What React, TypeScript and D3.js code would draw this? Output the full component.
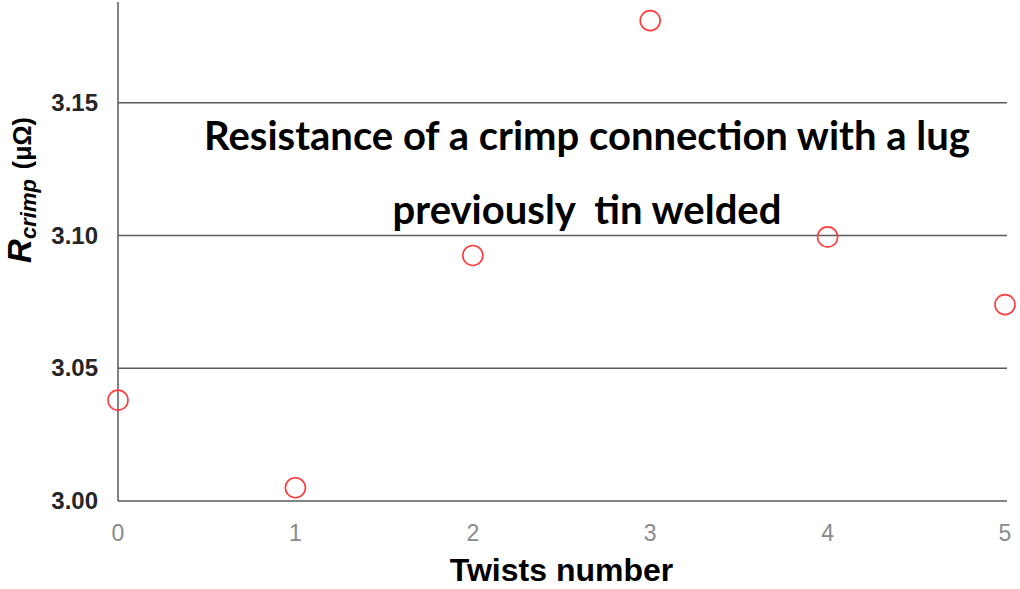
import * as React from "react";
import * as d3 from "d3";

const twists = [0, 1, 2, 3, 4, 5];
const resistance = [3.038, 3.005, 3.0925, 3.181, 3.0995, 3.074];
const yTicks = [3.0, 3.05, 3.1, 3.15];
const titleLines = ["Resistance of a crimp connection with a lug", "previously  tin welded"];

const W = 1020;
const H = 589;
const margin = { left: 118, right: 15, top: 2, bottom: 88 };

export default function App() {
    const x = d3.scaleLinear().domain([0, 5]).range([margin.left, W - margin.right]);
    const y = d3.scaleLinear().domain([3.0, 3.188]).range([H - margin.bottom, margin.top]);
    const fmt = d3.format(".2f");

    return (
        <svg width={W} height={H} style={{ position: "absolute", left: 0, top: 0, background: "#fff" }}>
            {/* gridlines */}
            {yTicks.map(t => (
                <line key={t} x1={x(0)} x2={x(5) + 2} y1={y(t)} y2={y(t)} stroke="#595959" strokeWidth={1.5} />
            ))}
            <line x1={x(0)} x2={x(0)} y1={y(3.188)} y2={y(3.0)} stroke="#595959" strokeWidth={1.5} />

            {/* y tick labels */}
            {yTicks.map(t => (
                <text key={t} x={x(0) - 20} y={y(t) + 8} textAnchor="end"
                    style={{ font: "bold 24px 'Liberation Sans', Arial, sans-serif", fill: "#262626" }}>
                    {fmt(t)}
                </text>
            ))}

            {/* x tick labels */}
            {twists.map(t => (
                <text key={t} x={x(t)} y={y(3.0) + 40} textAnchor="middle"
                    style={{ font: "23px 'Liberation Sans', Arial, sans-serif", fill: "#8a8a8a" }}>
                    {t}
                </text>
            ))}

            {/* axis titles */}
            <text x={(x(0) + x(5)) / 2} y={581} textAnchor="middle"
                style={{ font: "bold 32px 'Liberation Sans', Arial, sans-serif", fill: "#000" }}>
                Twists number
            </text>
            <text transform="translate(31,190) rotate(-90)" textAnchor="middle"
                style={{ font: "bold 33px 'Liberation Sans', Arial, sans-serif", fill: "#000" }}>
                <tspan fontStyle="italic">R</tspan>
                <tspan fontStyle="italic" fontSize={22} dy={5}>crimp</tspan>
                <tspan fontSize={25} dy={-5} dx={10}>(μΩ)</tspan>
            </text>

            {/* title */}
            {titleLines.map((l, i) => (
                <text key={i} x={587} y={150 + i * 74} textAnchor="middle" xmlSpace="preserve"
                    style={{ font: "bold 40px Lato, 'Open Sans', sans-serif", fill: "#000", whiteSpace: "pre" }}>
                    {l}
                </text>
            ))}

            {/* markers */}
            {twists.map((t, i) => (
                <circle key={t} cx={x(t)} cy={y(resistance[i])} r={10}
                    fill="none" stroke="#ff3b3b" strokeWidth={1.6} />
            ))}
        </svg>
    );
}
